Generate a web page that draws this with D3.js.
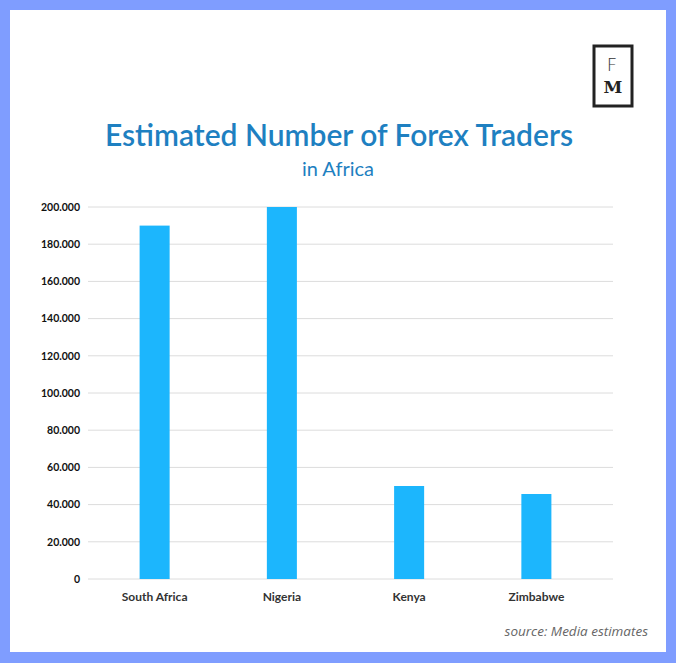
<!DOCTYPE html>
<html>
<head>
<meta charset="utf-8">
<script src="https://cdn.jsdelivr.net/npm/d3@7"></script>
<style>
  body { margin: 0; background: #fff; }
  svg { display: block; }
</style>
</head>
<body>
<script>
// chart data
var countries = ["South Africa", "Nigeria", "Kenya", "Zimbabwe"];
var traders = [190000, 200000, 50000, 45700];
var yTicks = [0, 20000, 40000, 60000, 80000, 100000, 120000, 140000, 160000, 180000, 200000];

var width = 676, height = 663;
var svg = d3.select("body").append("svg")
    .attr("width", width)
    .attr("height", height);

// blue frame
svg.append("rect").attr("x", 0).attr("y", 0).attr("width", width).attr("height", height).attr("fill", "#7f9dff");
svg.append("rect").attr("x", 10).attr("y", 10).attr("width", 656).attr("height", 642).attr("fill", "#ffffff");

// logo
var logo = svg.append("g").attr("class", "logo");
logo.append("rect").attr("x", 594).attr("y", 46).attr("width", 38).attr("height", 60)
    .attr("fill", "none").attr("stroke", "#222").attr("stroke-width", 3);
logo.append("text").attr("x", 612).attr("y", 71).attr("text-anchor", "middle")
    .attr("font-family", "DejaVu Sans").attr("font-weight", 200).attr("font-size", 18)
    .attr("fill", "#333").text("F");
logo.append("text").attr("x", 613).attr("y", 93).attr("text-anchor", "middle")
    .attr("font-family", "DejaVu Serif").attr("font-weight", "bold").attr("font-size", 17)
    .attr("fill", "#222").text("M");

// titles
svg.append("text").attr("x", 339).attr("y", 146).attr("text-anchor", "middle")
    .attr("font-family", "Lato").attr("font-weight", 600).attr("font-size", 30)
    .attr("fill", "#1e80c1").text("Estimated Number of Forex Traders");
svg.append("text").attr("x", 338).attr("y", 176).attr("text-anchor", "middle")
    .attr("font-family", "Lato").attr("font-size", 20)
    .attr("fill", "#1e80c1").text("in Africa");

var x0 = 88, x1 = 613, yTop = 207, yBot = 579;

var x = d3.scaleBand().domain(countries).range([91, 600]).paddingInner(0.764).paddingOuter(0.382);
var y = d3.scaleLinear().domain([0, 200000]).range([yBot, yTop]);

var fmt = function (d) { return d === 0 ? "0" : d3.format(",")(d).replace(/,/g, "."); };

// grid lines
svg.append("g").selectAll("line").data(yTicks).enter().append("line")
    .attr("x1", x0).attr("x2", x1)
    .attr("y1", function (d) { return y(d); }).attr("y2", function (d) { return y(d); })
    .attr("stroke", "#dcdcdc").attr("stroke-width", 1);

// y axis labels
var yAxis = svg.append("g").attr("transform", "translate(80,0)")
    .call(d3.axisLeft(y).tickValues(yTicks).tickFormat(fmt).tickSize(0).tickPadding(0));
yAxis.select(".domain").remove();
yAxis.selectAll("text").attr("font-family", "Lato").attr("font-weight", "bold")
    .attr("font-size", 10.5).attr("fill", "#111");

// bars
svg.append("g").selectAll("rect").data(countries).enter().append("rect")
    .attr("x", function (d) { return x(d); })
    .attr("width", x.bandwidth())
    .attr("y", function (d, i) { return y(traders[i]); })
    .attr("height", function (d, i) { return yBot - y(traders[i]); })
    .attr("fill", "#1cb6fd");

// x axis labels
var xAxis = svg.append("g").attr("transform", "translate(0," + (yBot + 13) + ")")
    .call(d3.axisBottom(x).tickSize(0).tickPadding(0));
xAxis.select(".domain").remove();
xAxis.selectAll("text").attr("font-family", "Lato").attr("font-weight", "bold")
    .attr("font-size", 12).attr("fill", "#333");

// source
svg.append("text").attr("x", 648).attr("y", 636).attr("text-anchor", "end")
    .attr("font-family", "Open Sans").attr("font-style", "italic").attr("font-size", 13.5)
    .attr("fill", "#666").text("source: Media estimates");
</script>
</body>
</html>
